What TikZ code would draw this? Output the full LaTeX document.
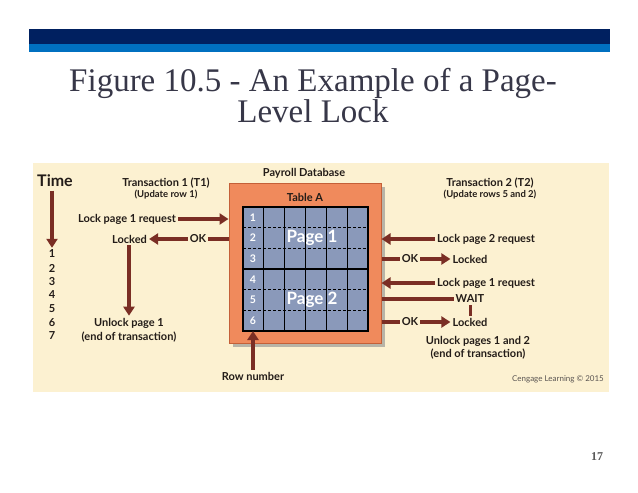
\documentclass[tikz,border=0pt]{standalone}
\usepackage{fontspec}
\setmainfont{Liberation Serif}
\newfontfamily\figfont{Lato}
\usetikzlibrary{arrows.meta}
\usetikzlibrary{calc}
\usetikzlibrary{shadows}

\definecolor{barNavy}{RGB}{0,32,96}
\definecolor{barBlue}{RGB}{0,112,192}
\definecolor{titleGray}{RGB}{55,55,72}
\definecolor{paperCream}{RGB}{252,241,209}
\definecolor{boxOrange}{RGB}{240,138,92}
\definecolor{boxEdge}{RGB}{196,96,56}
\definecolor{gridBlue}{RGB}{138,153,186}
\definecolor{flowBrown}{RGB}{122,46,36}
\definecolor{inkDark}{RGB}{35,28,24}

\tikzset{
	txt/.style={font=\figfont\bfseries\fontsize{11}{13}\selectfont, text=inkDark, inner sep=2pt},
	subtxt/.style={font=\figfont\bfseries\fontsize{9.5}{11}\selectfont, text=inkDark, inner sep=1pt},
	flow/.style={draw=flowBrown, line width=3.5pt, >={Triangle[length=9pt,width=11pt]}},
	rownum/.style={font=\figfont\bfseries\fontsize{10.5}{12}\selectfont, text=white},
	pagelabel/.style={font=\figfont\bfseries\fontsize{17}{19}\selectfont, text=white},
}

\newcommand{\drawGridRow}[2]{
	\draw[#2] ($(G_NW)+(0,#1*20.67)$) -- ($(G_NW)+(125,#1*20.67)$);
}

\begin{document}
\begin{tikzpicture}[x=1pt,y=-1pt]
	\useasboundingbox (0,0) rectangle (638,493);
	\fill[white] (0,0) rectangle (638,493);

	% slide header
	\fill[barNavy] (29,29) rectangle (610,44);
	\fill[barBlue] (29,44) rectangle (610,52);
	\node[font=\fontsize{33}{31}\selectfont, text=titleGray, align=center] (title) at (313,96)
		{Figure 10.5 - An Example of a Page-\\Level Lock};

	% figure panel
	\fill[paperCream] (33,163) rectangle (609,392);

	% time line
	\node[font=\figfont\bfseries\fontsize{16}{18}\selectfont, text=inkDark] (time) at (55,181) {Time};
	\foreach \t [count=\i] in {254,268,282,295,309,323,336}
		\node[txt] (tick\i) at (52,\t) {\i};
	\draw[flow,->] (time.south -| tick1) -- (tick1.north);

	% database box
	\node[txt] (payroll) at (304,173) {Payroll Database};
	\node[draw=boxEdge, line width=1pt, fill=boxOrange, minimum width=152pt, minimum height=160pt,
		drop shadow={shadow xshift=4pt, shadow yshift=-4pt, fill=black!45, opacity=0.6}] (tableBox) at (305,263) {};
	\node[txt] (tableA) at (305,197) {Table A};

	\coordinate (G_NW) at (243,207);
	\coordinate (G_SE) at (368,331);
	\fill[gridBlue] (G_NW) rectangle (G_SE);
	\foreach \c in {1,...,5}
		\draw[line width=1.2pt] ($(G_NW)+(\c*20.83,0)$) -- ($(G_NW)+(\c*20.83,124)$);
	\drawGridRow{1}{line width=1pt, dash pattern=on 3pt off 2pt}
	\drawGridRow{2}{line width=1pt, dash pattern=on 3pt off 2pt}
	\drawGridRow{3}{line width=1.2pt}
	\drawGridRow{4}{line width=1pt, dash pattern=on 3pt off 2pt}
	\drawGridRow{5}{line width=1pt, dash pattern=on 3pt off 2pt}
	\draw[line width=1.5pt] (G_NW) rectangle (G_SE);
	\foreach \r in {1,...,6}
		\node[rownum] (row\r) at (253,{207+20.67*(\r-0.5)}) {\r};
	\node[pagelabel] (page1) at (312,238) {Page 1};
	\node[pagelabel] (page2) at (312,300) {Page 2};

	\node[txt] (rowLabel) at (253,376) {Row number};
	\draw[flow,->] (rowLabel.north) -- (rowLabel.north |- G_SE);

	% transaction 1
	\node[txt] (t1title) at (166,183) {Transaction 1 (T1)};
	\node[subtxt] (t1sub) at (166,195) {(Update row 1)};
	\node[txt] (t1lock) at (127,219) {Lock page 1 request};
	\draw[flow,->] (t1lock.east) -- (t1lock -| tableBox.west);
	\node[txt] (t1locked) at (129.5,239) {Locked};
	\node[txt] (t1ok) at (198,239) {OK};
	\draw[flow] (tableBox.west |- t1ok) -- (t1ok.east);
	\draw[flow,->] (t1ok.west) -- (t1locked.east);
	\node[txt] (t1unlock) at (129,323) {Unlock page 1};
	\node[txt] (t1end) at (129,337) {(end of transaction)};
	\draw[flow,->] (t1locked.south -| t1unlock) -- (t1unlock.north);

	% transaction 2
	\node[txt] (t2title) at (490,183) {Transaction 2 (T2)};
	\node[subtxt] (t2sub) at (490,195) {(Update rows 5 and 2)};
	\node[txt, anchor=west] (t2lock2) at (435,239) {Lock page 2 request};
	\draw[flow,->] (t2lock2.west) -- (t2lock2 -| tableBox.east);
	\node[txt] (t2ok1) at (410,259) {OK};
	\node[txt] (t2locked1) at (470,259) {Locked};
	\draw[flow] (tableBox.east |- t2ok1) -- (t2ok1.west);
	\draw[flow,->] (t2ok1.east) -- (t2locked1.west);
	\node[txt, anchor=west] (t2lock1) at (435,283) {Lock page 1 request};
	\draw[flow,->] (t2lock1.west) -- (t2lock1 -| tableBox.east);
	\node[txt] (t2wait) at (470,299) {WAIT};
	\draw[flow] (tableBox.east |- t2wait) -- (t2wait.west);
	\node[txt] (t2ok2) at (410,322) {OK};
	\node[txt] (t2locked2) at (470,322) {Locked};
	\draw[flow, line width=3pt] (t2wait.south) -- (t2locked2.north);
	\draw[flow] (tableBox.east |- t2ok2) -- (t2ok2.west);
	\draw[flow,->] (t2ok2.east) -- (t2locked2.west);
	\node[txt] (t2unlock) at (478,341) {Unlock pages 1 and 2};
	\node[txt] (t2end) at (478,354) {(end of transaction)};

	\node[font=\figfont\fontsize{8}{9}\selectfont, text=inkDark!75] (credit) at (558,379) {Cengage Learning © 2015};
	\node[font=\bfseries\fontsize{12}{13}\selectfont, text=black!65] (pageNum) at (597,457) {17};
\end{tikzpicture}
\end{document}
